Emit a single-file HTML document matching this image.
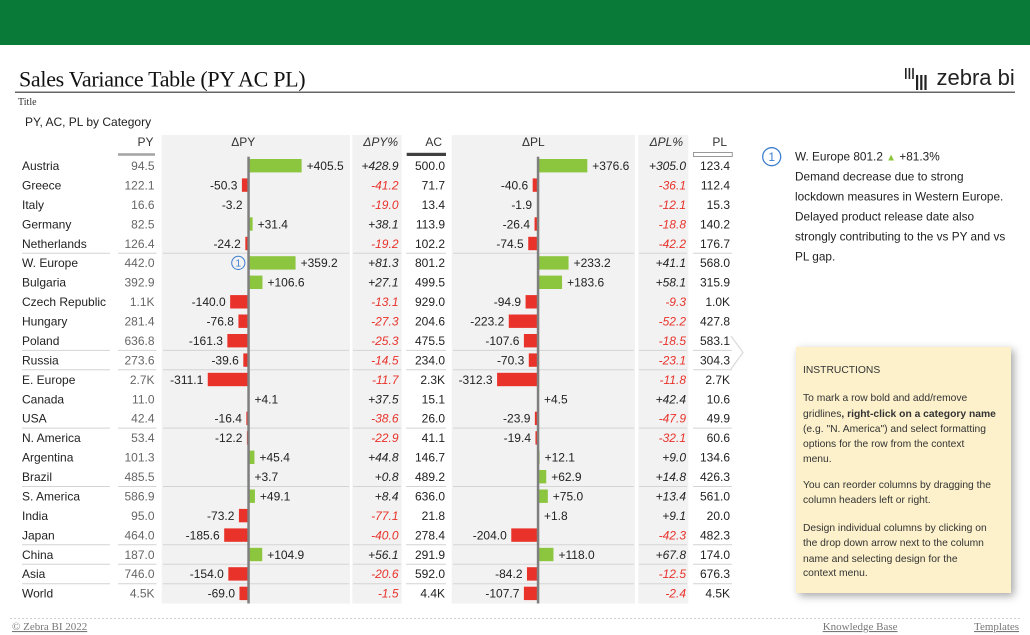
<!DOCTYPE html>
<html><head><meta charset="utf-8"><style>
html,body{margin:0;padding:0;background:#fff;}
body{width:1030px;height:635px;overflow:hidden;position:relative;}
svg{position:absolute;left:0;top:0;}
svg text{font-family:"Liberation Sans",Arial,sans-serif;font-size:12px;fill:#222;}
.r{text-anchor:end;}
.py{text-anchor:end;fill:#666 !important;}
.pp{text-anchor:end;font-style:italic;}
.pn{text-anchor:end;font-style:italic;fill:#e8322a !important;}
.g{fill:#8cc63f;}
.rd{fill:#e8322a;}
.hd{fill:#333 !important;}
.ft{font-family:"Liberation Serif",serif !important;font-size:11px !important;fill:#777 !important;text-decoration:underline;}
#ins{position:absolute;left:796px;top:347px;width:215px;height:246px;background:#fcf1cb;box-shadow:3px 3px 8px rgba(0,0,0,0.35);font-family:"Liberation Sans",Arial,sans-serif;font-size:10.3px;color:#333;}
#ins div{position:absolute;left:7px;height:14px;line-height:14px;white-space:nowrap;}
</style></head><body>
<svg width="1030" height="635" viewBox="0 0 1030 635" xmlns="http://www.w3.org/2000/svg">
<rect x="0" y="0" width="1030" height="45" fill="#0a7a38"/>
<text x="19" y="86.7" style="font-family:'Liberation Serif',serif;font-size:22px;letter-spacing:-0.3px;fill:#111">Sales Variance Table (PY AC PL)</text>
<line x1="15" y1="92.3" x2="1015" y2="92.3" stroke="#666" stroke-width="1.5"/>
<text x="18" y="105" style="font-family:'Liberation Serif',serif;font-size:10px;fill:#333">Title</text>
<text x="25" y="126" style="fill:#222">PY, AC, PL by Category</text>
<!-- logo -->
<g fill="#222">
<rect x="905" y="68" width="1.6" height="11"/><rect x="908.6" y="68" width="1.6" height="11"/><rect x="912.2" y="68" width="1.6" height="11"/>
<rect x="916" y="75" width="2.2" height="15"/><rect x="920.2" y="75" width="2.2" height="15"/><rect x="924.4" y="75" width="2.2" height="15"/>
</g>
<text x="936.5" y="85" style="font-size:22px;fill:#222">zebra bi</text>

<!-- panels -->
<rect x="161.7" y="135" width="188.3" height="468.5" fill="#f2f2f2"/>
<rect x="352.3" y="135" width="49.4" height="468.5" fill="#f2f2f2"/>
<rect x="451.7" y="135" width="183.3" height="468.5" fill="#f2f2f2"/>
<rect x="638.3" y="135" width="50" height="468.5" fill="#f2f2f2"/>

<!-- headers -->
<text x="153.5" y="146" class="r hd">PY</text>
<text x="243.3" y="146" class="hd" text-anchor="middle">ΔPY</text>
<text x="398" y="146" class="r hd" font-style="italic">ΔPY%</text>
<text x="442" y="146" class="r hd">AC</text>
<text x="533.3" y="146" class="hd" text-anchor="middle">ΔPL</text>
<text x="683" y="146" class="r hd" font-style="italic">ΔPL%</text>
<text x="727" y="146" class="r hd">PL</text>
<rect x="118" y="153.2" width="37" height="2.6" fill="#a6a6a6"/>
<rect x="406.7" y="152.8" width="39.3" height="3.2" fill="#404040"/>
<rect x="693.5" y="152.5" width="38.8" height="4" fill="#fff" stroke="#999" stroke-width="1"/>

<!-- separators -->
<g stroke="#d4d4d4" stroke-width="1">
<path d="M22 253.2H110M118 253.2H156.5M163 253.2H349M353 253.2H401M406 253.2H446M453 253.2H634M639 253.2H687M693 253.2H732"/>
<path d="M22 350.4H110M118 350.4H156.5M163 350.4H349M353 350.4H401M406 350.4H446M453 350.4H634M639 350.4H687M693 350.4H732"/>
<path d="M22 369.8H110M118 369.8H156.5M163 369.8H349M353 369.8H401M406 369.8H446M453 369.8H634M639 369.8H687M693 369.8H732"/>
<path d="M22 428.1H110M118 428.1H156.5M163 428.1H349M353 428.1H401M406 428.1H446M453 428.1H634M639 428.1H687M693 428.1H732"/>
<path d="M22 486.5H110M118 486.5H156.5M163 486.5H349M353 486.5H401M406 486.5H446M453 486.5H634M639 486.5H687M693 486.5H732"/>
<path d="M22 544.8H110M118 544.8H156.5M163 544.8H349M353 544.8H401M406 544.8H446M453 544.8H634M639 544.8H687M693 544.8H732"/>
<path d="M22 564.2H110M118 564.2H156.5M163 564.2H349M353 564.2H401M406 564.2H446M453 564.2H634M639 564.2H687M693 564.2H732"/>
<path d="M22 583.7H110M118 583.7H156.5M163 583.7H349M353 583.7H401M406 583.7H446M453 583.7H634M639 583.7H687M693 583.7H732"/>
</g>

<!-- bars dPY -->
<rect class="g" x="248.5" y="159.0" width="53.12" height="13.4"/>
<rect class="rd" x="241.91" y="178.4" width="6.59" height="13.4"/>
<rect class="rd" x="248.08" y="197.9" width="0.42" height="13.4"/>
<rect class="g" x="248.5" y="217.3" width="4.11" height="13.4"/>
<rect class="rd" x="245.33" y="236.8" width="3.17" height="13.4"/>
<rect class="g" x="248.5" y="256.2" width="47.06" height="13.4"/>
<rect class="g" x="248.5" y="275.6" width="13.96" height="13.4"/>
<rect class="rd" x="230.16" y="295.1" width="18.34" height="13.4"/>
<rect class="rd" x="238.44" y="314.5" width="10.06" height="13.4"/>
<rect class="rd" x="227.37" y="334.0" width="21.13" height="13.4"/>
<rect class="rd" x="243.31" y="353.4" width="5.19" height="13.4"/>
<rect class="rd" x="207.75" y="372.8" width="40.75" height="13.4"/>
<rect class="g" x="248.5" y="392.3" width="0.54" height="13.4"/>
<rect class="rd" x="246.35" y="411.7" width="2.15" height="13.4"/>
<rect class="rd" x="246.9" y="431.2" width="1.6" height="13.4"/>
<rect class="g" x="248.5" y="450.6" width="5.95" height="13.4"/>
<rect class="g" x="248.5" y="470.0" width="0.48" height="13.4"/>
<rect class="g" x="248.5" y="489.5" width="6.43" height="13.4"/>
<rect class="rd" x="238.91" y="508.9" width="9.59" height="13.4"/>
<rect class="rd" x="224.19" y="528.4" width="24.31" height="13.4"/>
<rect class="g" x="248.5" y="547.8" width="13.74" height="13.4"/>
<rect class="rd" x="228.33" y="567.2" width="20.17" height="13.4"/>
<rect class="rd" x="239.46" y="586.7" width="9.04" height="13.4"/>

<!-- bars dPL -->
<rect class="g" x="538" y="159.0" width="49.33" height="13.4"/>
<rect class="rd" x="532.68" y="178.4" width="5.32" height="13.4"/>
<rect class="rd" x="537.75" y="197.9" width="0.25" height="13.4"/>
<rect class="rd" x="534.54" y="217.3" width="3.46" height="13.4"/>
<rect class="rd" x="528.24" y="236.8" width="9.76" height="13.4"/>
<rect class="g" x="538" y="256.2" width="30.55" height="13.4"/>
<rect class="g" x="538" y="275.6" width="24.05" height="13.4"/>
<rect class="rd" x="525.57" y="295.1" width="12.43" height="13.4"/>
<rect class="rd" x="508.76" y="314.5" width="29.24" height="13.4"/>
<rect class="rd" x="523.9" y="334.0" width="14.1" height="13.4"/>
<rect class="rd" x="528.79" y="353.4" width="9.21" height="13.4"/>
<rect class="rd" x="497.09" y="372.8" width="40.91" height="13.4"/>
<rect class="g" x="538" y="392.3" width="0.59" height="13.4"/>
<rect class="rd" x="534.87" y="411.7" width="3.13" height="13.4"/>
<rect class="rd" x="535.46" y="431.2" width="2.54" height="13.4"/>
<rect class="g" x="538" y="450.6" width="1.59" height="13.4"/>
<rect class="g" x="538" y="470.0" width="8.24" height="13.4"/>
<rect class="g" x="538" y="489.5" width="9.83" height="13.4"/>
<rect class="g" x="538" y="508.9" width="0.24" height="13.4"/>
<rect class="rd" x="511.28" y="528.4" width="26.72" height="13.4"/>
<rect class="g" x="538" y="547.8" width="15.46" height="13.4"/>
<rect class="rd" x="526.97" y="567.2" width="11.03" height="13.4"/>
<rect class="rd" x="523.89" y="586.7" width="14.11" height="13.4"/>

<!-- axes -->
<rect x="247.3" y="156.7" width="2.5" height="446.8" fill="#7f7f7f"/>
<rect x="536.8" y="156.7" width="2.5" height="446.8" fill="#7f7f7f"/>

<!-- category -->
<g>
<text x="22" y="170.0">Austria</text>
<text x="22" y="189.4">Greece</text>
<text x="22" y="208.9">Italy</text>
<text x="22" y="228.3">Germany</text>
<text x="22" y="247.8">Netherlands</text>
<text x="22" y="267.2">W. Europe</text>
<text x="22" y="286.6">Bulgaria</text>
<text x="22" y="306.1">Czech Republic</text>
<text x="22" y="325.5">Hungary</text>
<text x="22" y="345.0">Poland</text>
<text x="22" y="364.4">Russia</text>
<text x="22" y="383.8">E. Europe</text>
<text x="22" y="403.3">Canada</text>
<text x="22" y="422.7">USA</text>
<text x="22" y="442.2">N. America</text>
<text x="22" y="461.6">Argentina</text>
<text x="22" y="481.0">Brazil</text>
<text x="22" y="500.5">S. America</text>
<text x="22" y="519.9">India</text>
<text x="22" y="539.4">Japan</text>
<text x="22" y="558.8">China</text>
<text x="22" y="578.2">Asia</text>
<text x="22" y="597.7">World</text>
</g>
<!-- PY -->
<g>
<text class="py" x="154.5" y="170.0">94.5</text>
<text class="py" x="154.5" y="189.4">122.1</text>
<text class="py" x="154.5" y="208.9">16.6</text>
<text class="py" x="154.5" y="228.3">82.5</text>
<text class="py" x="154.5" y="247.8">126.4</text>
<text class="py" x="154.5" y="267.2">442.0</text>
<text class="py" x="154.5" y="286.6">392.9</text>
<text class="py" x="154.5" y="306.1">1.1K</text>
<text class="py" x="154.5" y="325.5">281.4</text>
<text class="py" x="154.5" y="345.0">636.8</text>
<text class="py" x="154.5" y="364.4">273.6</text>
<text class="py" x="154.5" y="383.8">2.7K</text>
<text class="py" x="154.5" y="403.3">11.0</text>
<text class="py" x="154.5" y="422.7">42.4</text>
<text class="py" x="154.5" y="442.2">53.4</text>
<text class="py" x="154.5" y="461.6">101.3</text>
<text class="py" x="154.5" y="481.0">485.5</text>
<text class="py" x="154.5" y="500.5">586.9</text>
<text class="py" x="154.5" y="519.9">95.0</text>
<text class="py" x="154.5" y="539.4">464.0</text>
<text class="py" x="154.5" y="558.8">187.0</text>
<text class="py" x="154.5" y="578.2">746.0</text>
<text class="py" x="154.5" y="597.7">4.5K</text>
</g>
<!-- dPY labels -->
<g>
<text x="306.6" y="170.0">+405.5</text>
<text class="r" x="237.4" y="189.4">-50.3</text>
<text class="r" x="242.5" y="208.9">-3.2</text>
<text x="257.6" y="228.3">+31.4</text>
<text class="r" x="240.8" y="247.8">-24.2</text>
<text x="300.6" y="267.2">+359.2</text>
<text x="267.5" y="286.6">+106.6</text>
<text class="r" x="225.7" y="306.1">-140.0</text>
<text class="r" x="233.9" y="325.5">-76.8</text>
<text class="r" x="222.9" y="345.0">-161.3</text>
<text class="r" x="238.8" y="364.4">-39.6</text>
<text class="r" x="203.3" y="383.8">-311.1</text>
<text x="254.5" y="403.3">+4.1</text>
<text class="r" x="241.9" y="422.7">-16.4</text>
<text class="r" x="242.4" y="442.2">-12.2</text>
<text x="259.5" y="461.6">+45.4</text>
<text x="254.5" y="481.0">+3.7</text>
<text x="259.9" y="500.5">+49.1</text>
<text class="r" x="234.4" y="519.9">-73.2</text>
<text class="r" x="219.7" y="539.4">-185.6</text>
<text x="267.2" y="558.8">+104.9</text>
<text class="r" x="223.8" y="578.2">-154.0</text>
<text class="r" x="235.0" y="597.7">-69.0</text>
</g>
<circle cx="238.3" cy="262.9" r="6.6" fill="none" stroke="#3f7fcf" stroke-width="1"/>
<text x="238.3" y="266.6" text-anchor="middle" style="font-size:10px;fill:#3f7fcf">1</text>
<!-- dPY% -->
<g>
<text class="pp" x="398.5" y="170.0">+428.9</text>
<text class="pn" x="398.5" y="189.4">-41.2</text>
<text class="pn" x="398.5" y="208.9">-19.0</text>
<text class="pp" x="398.5" y="228.3">+38.1</text>
<text class="pn" x="398.5" y="247.8">-19.2</text>
<text class="pp" x="398.5" y="267.2">+81.3</text>
<text class="pp" x="398.5" y="286.6">+27.1</text>
<text class="pn" x="398.5" y="306.1">-13.1</text>
<text class="pn" x="398.5" y="325.5">-27.3</text>
<text class="pn" x="398.5" y="345.0">-25.3</text>
<text class="pn" x="398.5" y="364.4">-14.5</text>
<text class="pn" x="398.5" y="383.8">-11.7</text>
<text class="pp" x="398.5" y="403.3">+37.5</text>
<text class="pn" x="398.5" y="422.7">-38.6</text>
<text class="pn" x="398.5" y="442.2">-22.9</text>
<text class="pp" x="398.5" y="461.6">+44.8</text>
<text class="pp" x="398.5" y="481.0">+0.8</text>
<text class="pp" x="398.5" y="500.5">+8.4</text>
<text class="pn" x="398.5" y="519.9">-77.1</text>
<text class="pn" x="398.5" y="539.4">-40.0</text>
<text class="pp" x="398.5" y="558.8">+56.1</text>
<text class="pn" x="398.5" y="578.2">-20.6</text>
<text class="pn" x="398.5" y="597.7">-1.5</text>
</g>
<!-- AC -->
<g class="r">
<text class="r" x="445" y="170.0">500.0</text>
<text class="r" x="445" y="189.4">71.7</text>
<text class="r" x="445" y="208.9">13.4</text>
<text class="r" x="445" y="228.3">113.9</text>
<text class="r" x="445" y="247.8">102.2</text>
<text class="r" x="445" y="267.2">801.2</text>
<text class="r" x="445" y="286.6">499.5</text>
<text class="r" x="445" y="306.1">929.0</text>
<text class="r" x="445" y="325.5">204.6</text>
<text class="r" x="445" y="345.0">475.5</text>
<text class="r" x="445" y="364.4">234.0</text>
<text class="r" x="445" y="383.8">2.3K</text>
<text class="r" x="445" y="403.3">15.1</text>
<text class="r" x="445" y="422.7">26.0</text>
<text class="r" x="445" y="442.2">41.1</text>
<text class="r" x="445" y="461.6">146.7</text>
<text class="r" x="445" y="481.0">489.2</text>
<text class="r" x="445" y="500.5">636.0</text>
<text class="r" x="445" y="519.9">21.8</text>
<text class="r" x="445" y="539.4">278.4</text>
<text class="r" x="445" y="558.8">291.9</text>
<text class="r" x="445" y="578.2">592.0</text>
<text class="r" x="445" y="597.7">4.4K</text>
</g>
<!-- dPL labels -->
<g>
<text x="592.3" y="170.0">+376.6</text>
<text class="r" x="528.2" y="189.4">-40.6</text>
<text class="r" x="532.0" y="208.9">-1.9</text>
<text class="r" x="530.0" y="228.3">-26.4</text>
<text class="r" x="523.7" y="247.8">-74.5</text>
<text x="573.6" y="267.2">+233.2</text>
<text x="567.1" y="286.6">+183.6</text>
<text class="r" x="521.1" y="306.1">-94.9</text>
<text class="r" x="504.3" y="325.5">-223.2</text>
<text class="r" x="519.4" y="345.0">-107.6</text>
<text class="r" x="524.3" y="364.4">-70.3</text>
<text class="r" x="492.6" y="383.8">-312.3</text>
<text x="544.0" y="403.3">+4.5</text>
<text class="r" x="530.4" y="422.7">-23.9</text>
<text class="r" x="531.0" y="442.2">-19.4</text>
<text x="544.6" y="461.6">+12.1</text>
<text x="551.2" y="481.0">+62.9</text>
<text x="552.8" y="500.5">+75.0</text>
<text x="544.0" y="519.9">+1.8</text>
<text class="r" x="506.8" y="539.4">-204.0</text>
<text x="558.5" y="558.8">+118.0</text>
<text class="r" x="522.5" y="578.2">-84.2</text>
<text class="r" x="519.4" y="597.7">-107.7</text>
</g>
<!-- dPL% -->
<g>
<text class="pp" x="686" y="170.0">+305.0</text>
<text class="pn" x="686" y="189.4">-36.1</text>
<text class="pn" x="686" y="208.9">-12.1</text>
<text class="pn" x="686" y="228.3">-18.8</text>
<text class="pn" x="686" y="247.8">-42.2</text>
<text class="pp" x="686" y="267.2">+41.1</text>
<text class="pp" x="686" y="286.6">+58.1</text>
<text class="pn" x="686" y="306.1">-9.3</text>
<text class="pn" x="686" y="325.5">-52.2</text>
<text class="pn" x="686" y="345.0">-18.5</text>
<text class="pn" x="686" y="364.4">-23.1</text>
<text class="pn" x="686" y="383.8">-11.8</text>
<text class="pp" x="686" y="403.3">+42.4</text>
<text class="pn" x="686" y="422.7">-47.9</text>
<text class="pn" x="686" y="442.2">-32.1</text>
<text class="pp" x="686" y="461.6">+9.0</text>
<text class="pp" x="686" y="481.0">+14.8</text>
<text class="pp" x="686" y="500.5">+13.4</text>
<text class="pp" x="686" y="519.9">+9.1</text>
<text class="pn" x="686" y="539.4">-42.3</text>
<text class="pp" x="686" y="558.8">+67.8</text>
<text class="pn" x="686" y="578.2">-12.5</text>
<text class="pn" x="686" y="597.7">-2.4</text>
</g>
<!-- PL -->
<g>
<text class="r" x="730" y="170.0">123.4</text>
<text class="r" x="730" y="189.4">112.4</text>
<text class="r" x="730" y="208.9">15.3</text>
<text class="r" x="730" y="228.3">140.2</text>
<text class="r" x="730" y="247.8">176.7</text>
<text class="r" x="730" y="267.2">568.0</text>
<text class="r" x="730" y="286.6">315.9</text>
<text class="r" x="730" y="306.1">1.0K</text>
<text class="r" x="730" y="325.5">427.8</text>
<text class="r" x="730" y="345.0">583.1</text>
<text class="r" x="730" y="364.4">304.3</text>
<text class="r" x="730" y="383.8">2.7K</text>
<text class="r" x="730" y="403.3">10.6</text>
<text class="r" x="730" y="422.7">49.9</text>
<text class="r" x="730" y="442.2">60.6</text>
<text class="r" x="730" y="461.6">134.6</text>
<text class="r" x="730" y="481.0">426.3</text>
<text class="r" x="730" y="500.5">561.0</text>
<text class="r" x="730" y="519.9">20.0</text>
<text class="r" x="730" y="539.4">482.3</text>
<text class="r" x="730" y="558.8">174.0</text>
<text class="r" x="730" y="578.2">676.3</text>
<text class="r" x="730" y="597.7">4.5K</text>
</g>

<polyline points="731,336 743,352.5 731,369" fill="none" stroke="#dadada" stroke-width="1.2"/>

<!-- note -->
<circle cx="771.7" cy="156.7" r="9" fill="none" stroke="#3f7fcf" stroke-width="1.3"/>
<text x="771.7" y="161" text-anchor="middle" style="font-size:12px;fill:#3f7fcf">1</text>
<g style="font-size:11.8px">
<text x="795" y="160.7" style="font-size:11.8px">W. Europe 801.2 <tspan style="fill:#8cc63f;font-size:10px">▲</tspan> +81.3%</text>
<text x="795" y="180.7" style="font-size:11.8px">Demand decrease due to strong</text>
<text x="795" y="200.7" style="font-size:11.8px">lockdown measures in Western Europe.</text>
<text x="795" y="220.7" style="font-size:11.8px">Delayed product release date also</text>
<text x="795" y="240.7" style="font-size:11.8px">strongly contributing to the vs PY and vs</text>
<text x="795" y="260.7" style="font-size:11.8px">PL gap.</text>
</g>

<!-- footer -->
<line x1="10" y1="618.5" x2="1020" y2="618.5" stroke="#d0d0d0" stroke-width="1" stroke-dasharray="2,2"/>
<text class="ft" x="12" y="630">© Zebra BI 2022</text>
<text class="ft" x="822.7" y="630">Knowledge Base</text>
<text class="ft" x="974" y="630">Templates</text>
</svg>

<div id="ins">
<div style="top:16.5px">INSTRUCTIONS</div>
<div style="top:45px">To mark a row bold and add/remove</div>
<div style="top:60.5px">gridlines<b>, right-click on a category name</b></div>
<div style="top:76px">(e.g. "N. America") and select formatting</div>
<div style="top:91px">options for the row from the context</div>
<div style="top:106px">menu.</div>
<div style="top:131.5px">You can reorder columns by dragging the</div>
<div style="top:146.5px">column headers left or right.</div>
<div style="top:175px">Design individual columns by clicking on</div>
<div style="top:190px">the drop down arrow next to the column</div>
<div style="top:205.5px">name and selecting design for the</div>
<div style="top:219.5px">context menu.</div>
</div>
</body></html>
